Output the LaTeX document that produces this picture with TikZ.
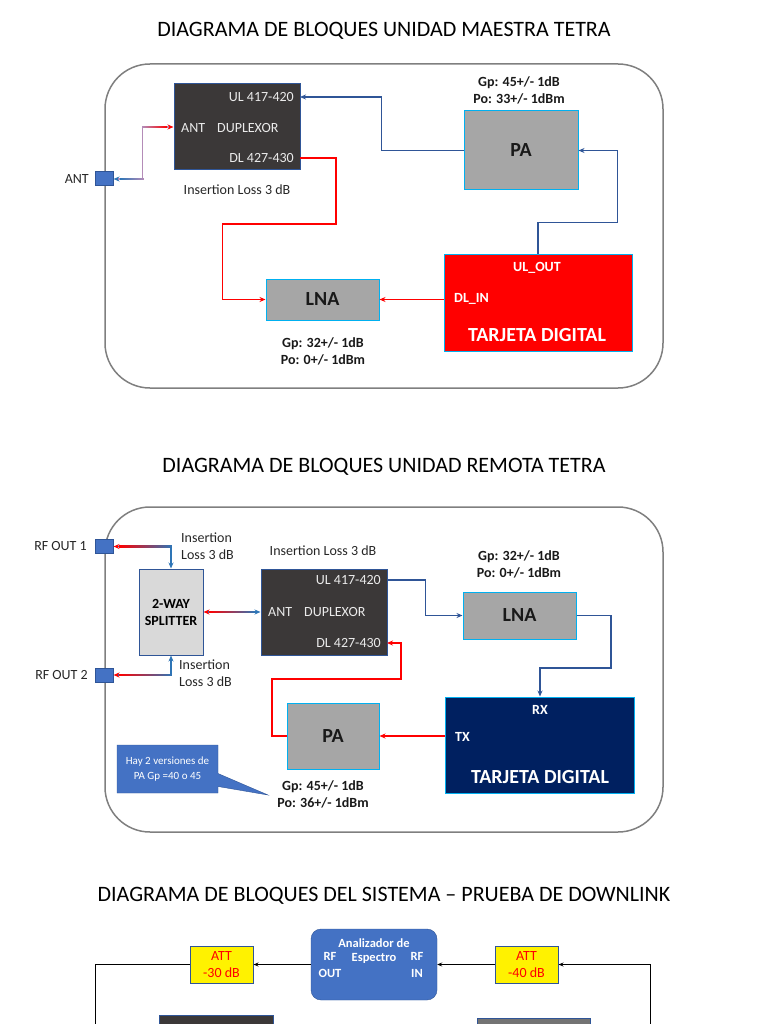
\documentclass[tikz,border=0pt]{standalone}
\usepackage{fontspec}
\setmainfont{Carlito}
\usetikzlibrary{arrows.meta,calc,shapes.callouts}

\definecolor{dkblue}{HTML}{2F5597}
\definecolor{midblue}{HTML}{4472C4}
\definecolor{ltblue}{HTML}{2E75B6}
\definecolor{cyanb}{HTML}{00B0F0}
\definecolor{boxgray}{HTML}{A6A6A6}
\definecolor{dupgray}{HTML}{3B3838}
\definecolor{navy}{HTML}{002060}
\definecolor{mauve}{HTML}{B48CB8}
\definecolor{paleviolet}{HTML}{D8C4DE}
\definecolor{framegray}{HTML}{7F7F7F}

\newcommand*{\titlefont}{\fontsize{22}{26}\selectfont}
\newcommand*{\lblfont}{\fontsize{14}{17}\selectfont}
\newcommand*{\bigfont}{\fontsize{20}{24}\selectfont\bfseries}
\newcommand*{\smallfont}{\fontsize{11}{15}\selectfont}

\begin{document}
\begin{tikzpicture}[x=1pt,y=-1pt,
	frame/.style={draw=framegray, line width=1.5pt, rounded corners=45pt},
	dupbox/.style={draw=dkblue, fill=dupgray, line width=1pt, minimum width=126pt, minimum height=86pt},
	dtxt/.style={text=white!92!black, font=\lblfont, inner sep=1pt},
	lbl/.style={text=black!85, font=\lblfont, inner sep=1pt},
	port/.style={draw=dkblue, fill=midblue, line width=1pt, minimum width=18pt, minimum height=14pt, inner sep=0pt},
	graybox/.style={draw=cyanb, fill=boxgray, line width=1pt, font=\bigfont, text=black!90},
	card/.style={draw=cyanb, line width=1pt},
	ctxt/.style={text=white, font=\lblfont\bfseries, inner sep=1pt},
	gain/.style={font=\lblfont\bfseries, align=center, text=black!90},
	splbox/.style={draw=dkblue, fill=black!15, line width=1pt, minimum width=64pt, minimum height=86pt, font=\lblfont\bfseries, align=center},
	ulline/.style={draw=dkblue, line width=1.5pt, -{Stealth[length=6pt,width=5pt]}},
	dlline/.style={draw=red, line width=1.5pt, -{Stealth[length=6pt,width=5pt]}},
	mixline/.style={line width=1.5pt},
	biarrow/.style 2 args={arrows={Stealth[length=6pt,width=5pt,color=#1]}-{Stealth[length=6pt,width=5pt,color=#2]}},
	note/.style={rectangle callout, draw=dkblue, fill=midblue, text=white, font=\smallfont, align=center, minimum width=101pt, minimum height=48pt, inner sep=0pt, callout pointer width=13pt},
	anabox/.style={draw=dkblue, fill=midblue, rounded corners=10pt, minimum width=126pt, minimum height=71pt},
	atxt/.style={text=white, font=\fontsize{12.5}{17}\selectfont\bfseries, inner sep=1pt},
	attbox/.style={draw=dkblue, fill=yellow, line width=1pt, minimum width=63pt, minimum height=37pt, text=red, font=\lblfont, align=center, inner sep=0pt},
	sysline/.style={draw=black, line width=1pt, -{Stealth[length=5pt,width=4pt]}}
]

	\useasboundingbox (0,0) rectangle (768,1024);
	\clip (0,0) rectangle (768,1024);

	% unidad maestra
	\node[font=\titlefont] (titleM) at (384,31) {DIAGRAMA DE BLOQUES UNIDAD MAESTRA TETRA};
	\draw[frame] (105,64) rectangle (663,388);

	\node[dupbox] (dupM) at (237,127) {};
	\node[dtxt, anchor=east] at (295,97) {UL 417-420};
	\node[dtxt, anchor=west] at (180,128) {ANT\hspace{12pt}DUPLEXOR};
	\node[dtxt, anchor=east] at (295,158) {DL 427-430};
	\coordinate (dupM-ul) at (300,97);
	\coordinate (dupM-dl) at (300,158);
	\node[lbl] at (237,190) {Insertion Loss 3 dB};

	\node[port] (antM) at (104,179) {};
	\node[lbl, anchor=east] at (90,179) {ANT};

	\node[graybox, minimum width=114pt, minimum height=79pt] (paM) at (521,150.5) {PA};
	\node[gain] at (519,90.5) {Gp: 45+/- 1dB\\Po: 33+/- 1dBm};

	\node[card, fill=red, minimum width=188pt, minimum height=97pt] (tarM) at (538,302.5) {};
	\node[ctxt] at (537,268) {UL\_OUT};
	\node[ctxt, anchor=west] at (453,299) {DL\_IN};
	\node[ctxt, font=\bigfont] at (537,335) {TARJETA DIGITAL};

	\node[graybox, minimum width=113pt, minimum height=41pt] (lnaM) at (322.5,299.5) {LNA};
	\node[gain] at (323,351.5) {Gp: 32+/- 1dB\\Po: 0+/- 1dBm};

	\draw[ulline] (paM.west) -- ++(-82,0) |- (dupM-ul);
	\draw[ulline] (tarM.north) -- ++(0,-31) -| ($(paM.east)+(39,0)$) -- (paM.east);
	\draw[dlline] (tarM.west |- lnaM.east) -- (lnaM.east);
	\draw[dlline] (dupM-dl) -| (336,224) -| ($(lnaM.west)+(-43,0)$) -- (lnaM.west);
	\draw[mixline, draw=mauve, biarrow={ltblue}{red}] (antM.east) -| ($(dupM.west)+(-31,0)$) -- (dupM.west);
	\shade[left color=ltblue, right color=mauve] (120,178.25) rectangle (143.75,179.75);
	\shade[left color=mauve, right color=red] (142.25,126.25) rectangle (167,127.75);

	% unidad remota
	\node[font=\titlefont] (titleR) at (384,467) {DIAGRAMA DE BLOQUES UNIDAD REMOTA TETRA};
	\draw[frame] (105,507) rectangle (663,832);

	\node[port] (outA) at (104,546.5) {};
	\node[lbl, anchor=east] at (88,546.5) {RF OUT 1};
	\node[port] (outB) at (104,675) {};
	\node[lbl, anchor=east] at (89,675) {RF OUT 2};

	\node[splbox] (spl) at (171,612) {2-WAY\\SPLITTER};
	\node[lbl, anchor=west, align=left] at (180,546) {Insertion\\Loss 3 dB};
	\node[lbl, anchor=west, align=left] at (178,673) {Insertion\\Loss 3 dB};

	\node[dupbox] (dupR) at (324,612) {};
	\node[dtxt, anchor=east] at (382,580) {UL 417-420};
	\node[dtxt, anchor=west] at (267,612) {ANT\hspace{12pt}DUPLEXOR};
	\node[dtxt, anchor=east] at (382,643) {DL 427-430};
	\coordinate (dupR-ul) at (387,580);
	\coordinate (dupR-dl) at (387,643);
	\node[lbl] at (323,551) {Insertion Loss 3 dB};

	\node[graybox, minimum width=113pt, minimum height=47pt] (lnaR) at (519.5,615.5) {LNA};
	\node[gain] at (519,564.5) {Gp: 32+/- 1dB\\Po: 0+/- 1dBm};

	\node[card, fill=navy, minimum width=189pt, minimum height=96pt] (tarR) at (540,745) {};
	\node[ctxt] at (540,710) {RX};
	\node[ctxt, anchor=west] at (454,737) {TX};
	\node[ctxt, font=\bigfont] at (540,777) {TARJETA DIGITAL};

	\node[graybox, minimum width=92pt, minimum height=66pt] (paR) at (333,736) {PA};
	\node[gain] at (323,794.5) {Gp: 45+/- 1dB\\Po: 36+/- 1dBm};

	\node[note, callout absolute pointer={(268,795)}] (nota) at (167.5,769) {Hay 2 versiones de\\PA Gp =40 o 45};

	\draw[ulline] (dupR-ul) -| ($(lnaR.west)+(-37,0)$) -- (lnaR.west);
	\draw[ulline] (lnaR.east) -| (611,668) -| (tarR.north);
	\draw[dlline] (tarR.west |- paR.east) -- (paR.east);
	\draw[dlline] (paR.west) -| (272,679) -| (401,643) -- (dupR-dl);
	\draw[mixline, draw=ltblue, biarrow={red}{ltblue}] (outA.east) -| (spl.north);
	\shade[left color=red, middle color=paleviolet, right color=ltblue] (119,545.75) rectangle (171.75,547.25);
	\draw[mixline, draw=ltblue, biarrow={red}{ltblue}] (outB.east) -| (spl.south);
	\shade[left color=red, middle color=paleviolet, right color=ltblue] (119,674.25) rectangle (171.75,675.75);
	\draw[mixline, draw=ltblue, biarrow={red}{ltblue}] (spl.east) -- (dupR.west);
	\shade[left color=red, middle color=paleviolet, right color=ltblue] (209,611.25) rectangle (255,612.75);

	% prueba de downlink
	\node[font=\titlefont] (titleS) at (384,896) {DIAGRAMA DE BLOQUES DEL SISTEMA – PRUEBA DE DOWNLINK};
	\node[anabox] (ana) at (374,964.5) {};
	\node[atxt] at (374,943) {Analizador de};
	\node[atxt] at (374,958) {Espectro};
	\node[atxt, align=center] at (330,964.5) {RF\\OUT};
	\node[atxt, align=center] at (417,964.5) {RF\\IN};

	\node[attbox] (attA) at (221.5,964.5) {ATT\\-30 dB};
	\node[attbox] (attB) at (526.5,964.5) {ATT\\-40 dB};
	\coordinate (retA) at (95,1030);
	\coordinate (retB) at (650,1030);
	\draw[sysline] (ana.west) -- (attA.east);
	\draw[sysline, -] (attA.west) -| (retA);
	\draw[sysline] (retB) |- (attB.east);
	\draw[sysline] (attB.west) -- (ana.east);

	\node[dupbox, minimum width=114pt, minimum height=40pt, anchor=north west] (maestraS) at (159,1015) {};
	\node[draw=dkblue, fill=black!55, line width=1pt, minimum width=113pt, minimum height=40pt, anchor=north west] (remotaS) at (477,1018) {};

\end{tikzpicture}
\end{document}
